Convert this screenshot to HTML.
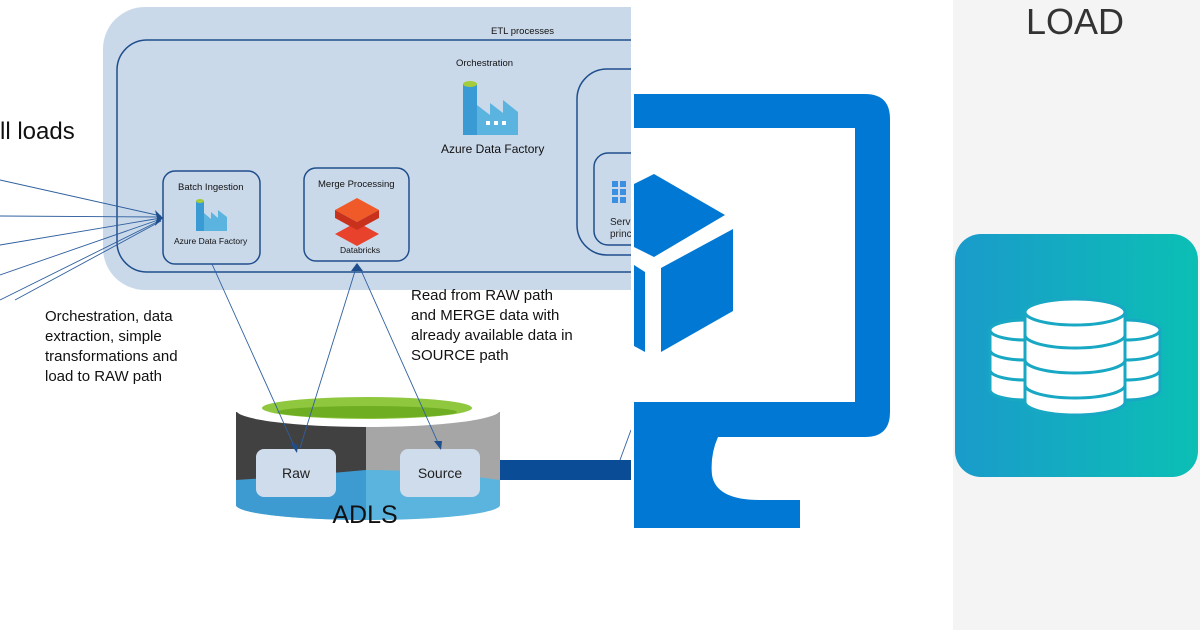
<!DOCTYPE html>
<html><head><meta charset="utf-8"><style>
html,body{margin:0;padding:0;background:#fff;width:1200px;height:630px;overflow:hidden}
svg{display:block}
text{font-family:"Liberation Sans",Arial,sans-serif}
</style></head><body>
<svg width="1200" height="630" viewBox="0 0 1200 630" xmlns="http://www.w3.org/2000/svg">
<defs>
<linearGradient id="tg" x1="0" x2="1" y1="0" y2="0"><stop offset="0" stop-color="#1a9bcb"/><stop offset="1" stop-color="#0bbfb4"/></linearGradient>
<clipPath id="lc"><rect x="0" y="0" width="631" height="630"/></clipPath>
</defs>
<g clip-path="url(#lc)">
<rect x="103" y="7" width="600" height="283" rx="42" fill="#cad9ea"/>
<rect x="117" y="40" width="580" height="232" rx="30" fill="none" stroke="#1f4e8c" stroke-width="1.5"/>
<text x="491" y="34" font-size="9.5" fill="#111">ETL processes</text>
<text x="456" y="66" font-size="9.5" fill="#111">Orchestration</text>
<rect x="463" y="84" width="14" height="51" fill="#3a9ad3"/>
<ellipse cx="470" cy="84" rx="7" ry="3" fill="#a5cc3a"/>
<polygon points="477,135 477,105 490,115 490,103 503,113 503,100 518,112 518,135" fill="#5bb4e0"/>
<rect x="486" y="121" width="4" height="4" fill="#fff"/><rect x="494" y="121" width="4" height="4" fill="#fff"/><rect x="502" y="121" width="4" height="4" fill="#fff"/>
<text x="441" y="153" font-size="12" fill="#111">Azure Data Factory</text>
<rect x="577" y="69" width="120" height="186" rx="30" fill="none" stroke="#1f4e8c" stroke-width="1.5"/>
<rect x="594" y="153" width="100" height="92" rx="14" fill="#cad9ea" stroke="#1f4e8c" stroke-width="1.5"/>
<g fill="#3a8fe0"><rect x="612" y="181" width="6" height="6"/><rect x="620" y="181" width="6" height="6"/><rect x="612" y="189" width="6" height="6"/><rect x="620" y="189" width="6" height="6"/><rect x="612" y="197" width="6" height="6"/><rect x="620" y="197" width="6" height="6"/></g>
<text x="610" y="225" font-size="10" fill="#222">Service</text>
<text x="610" y="237" font-size="10" fill="#222">principal</text>
<rect x="163" y="171" width="97" height="93" rx="12" fill="#cad9ea" stroke="#1f4e8c" stroke-width="1.5"/>
<text x="178" y="190" font-size="9.5" fill="#111">Batch Ingestion</text>
<rect x="196" y="201" width="8" height="30" fill="#3a9ad3"/>
<ellipse cx="200" cy="201" rx="4" ry="2" fill="#a5cc3a"/>
<polygon points="204,231 204,213 211,219 211,212 218,218 218,210 227,217 227,231" fill="#5bb4e0"/>
<text x="174" y="244" font-size="8.5" fill="#111">Azure Data Factory</text>
<rect x="304" y="168" width="105" height="93" rx="12" fill="#cad9ea" stroke="#1f4e8c" stroke-width="1.5"/>
<text x="318" y="187" font-size="9.5" fill="#111">Merge Processing</text>
<polygon points="357,222 379,234 357,246 335,234" fill="#e8412c"/>
<polygon points="357,198 379,210 357,222 335,210" fill="#f05a28"/>
<polygon points="335,210 357,222 379,210 379,218 357,230 335,218" fill="#c8321d"/>
<text x="340" y="253" font-size="8.5" fill="#111">Databricks</text>
<g stroke="#2e5f9e" stroke-width="0.9">
<line x1="0" y1="180" x2="161" y2="216"/><line x1="0" y1="216" x2="161" y2="217"/>
<line x1="0" y1="245" x2="161" y2="218"/><line x1="0" y1="275" x2="161" y2="219"/>
<line x1="0" y1="300" x2="161" y2="220"/><line x1="15" y1="300" x2="161" y2="221"/>
</g>
<polygon points="163,218 155,210 157,218 155,226" fill="#1f4e8c"/>
<text x="0" y="139" font-size="24" fill="#111">ll loads</text>
<g font-size="15" fill="#111">
<text x="45" y="321">Orchestration, data</text>
<text x="45" y="341">extraction, simple</text>
<text x="45" y="361">transformations and</text>
<text x="45" y="381">load to RAW path</text>
<text x="411" y="300">Read from RAW path</text>
<text x="411" y="320">and MERGE data with</text>
<text x="411" y="340">already available data in</text>
<text x="411" y="360">SOURCE path</text>
</g>
<path d="M236,412 L236,505 A132,15 0 0 0 500,505 L500,412 Z" fill="#5ab4de"/>
<path d="M236,412 L236,505 A132,15 0 0 0 366,520 L366,412 Z" fill="#3e9bd1"/>
<path d="M236,412 L366,412 L366,470 Q300,476 236,480 Z" fill="#414141"/>
<path d="M366,412 L500,412 L500,480 Q430,470 366,470 Z" fill="#a6a6a6"/>
<ellipse cx="368" cy="410" rx="132" ry="17" fill="#fff"/>
<ellipse cx="367" cy="408" rx="105" ry="11" fill="#8fc73f"/>
<ellipse cx="367" cy="412" rx="90" ry="6" fill="#6fae22"/>
<rect x="256" y="449" width="80" height="48" rx="8" fill="#cfdcec"/>
<rect x="400" y="449" width="80" height="48" rx="8" fill="#cfdcec"/>
<text x="296" y="478" font-size="14" text-anchor="middle" fill="#222">Raw</text>
<text x="440" y="478" font-size="14" text-anchor="middle" fill="#222">Source</text>
<text x="365" y="523" font-size="25" text-anchor="middle" fill="#111">ADLS</text>
<g stroke="#2e5f9e" stroke-width="0.9">
<line x1="212" y1="264" x2="295" y2="448"/>
<line x1="356" y1="268" x2="300" y2="448"/>
<line x1="360" y1="268" x2="439" y2="445"/>
</g>
<polygon points="297,453 290,443 298,445" fill="#1f4e8c"/>
<polygon points="441,450 434,441 442,441" fill="#1f4e8c"/>
<polygon points="357,263 351,271 363,271" fill="#1f4e8c"/>
<rect x="500" y="460" width="135" height="20" fill="#0a4c96"/>
<line x1="620" y1="460" x2="631" y2="430" stroke="#2e5f9e" stroke-width="0.9"/>
</g>
<path d="M634,94 L865,94 Q890,94 890,119 L890,412 Q890,437 865,437 L718,437 Q710,455 712,475 Q716,500 760,500 L800,500 L800,528 L634,528 Z M634,128 L634,402 L855,402 L855,128 Z" fill="#0078d4" fill-rule="evenodd"/>
<polygon points="654,174 725,215 654,257 634,247 634,184" fill="#0078d4"/>
<polygon points="661,268 733,229 733,311 661,352" fill="#0078d4"/>
<polygon points="634,265 645,272 645,352 634,346" fill="#0078d4"/>
<rect x="953" y="0" width="247" height="630" fill="#f4f4f4"/>
<text x="1075" y="34" font-size="36" text-anchor="middle" fill="#333">LOAD</text>
<rect x="955" y="234" width="243" height="243" rx="26" fill="url(#tg)"/>
<g fill="#fff" stroke="#18a8c4" stroke-width="3">
<g>
<path d="M990,370 L990,390 A35,10 0 0 0 1060,390 L1060,370 Z"/>
<path d="M990,350 L990,370 A35,10 0 0 0 1060,370 L1060,350 Z"/>
<path d="M990,330 L990,350 A35,10 0 0 0 1060,350 L1060,330 Z"/>
<ellipse cx="1025" cy="330" rx="35" ry="10"/>
</g>
<g>
<path d="M1090,370 L1090,390 A35,10 0 0 0 1160,390 L1160,370 Z"/>
<path d="M1090,350 L1090,370 A35,10 0 0 0 1160,370 L1160,350 Z"/>
<path d="M1090,330 L1090,350 A35,10 0 0 0 1160,350 L1160,330 Z"/>
<ellipse cx="1125" cy="330" rx="35" ry="10"/>
</g>
<path d="M1025,385 L1025,402 A50,13 0 0 0 1125,402 L1125,385 Z"/>
<path d="M1025,360 L1025,385 A50,13 0 0 0 1125,385 L1125,360 Z"/>
<path d="M1025,335 L1025,360 A50,13 0 0 0 1125,360 L1125,335 Z"/>
<path d="M1025,312 L1025,335 A50,13 0 0 0 1125,335 L1125,312 Z"/>
<ellipse cx="1075" cy="312" rx="50" ry="13"/>
</g>
</svg>
</body></html>
